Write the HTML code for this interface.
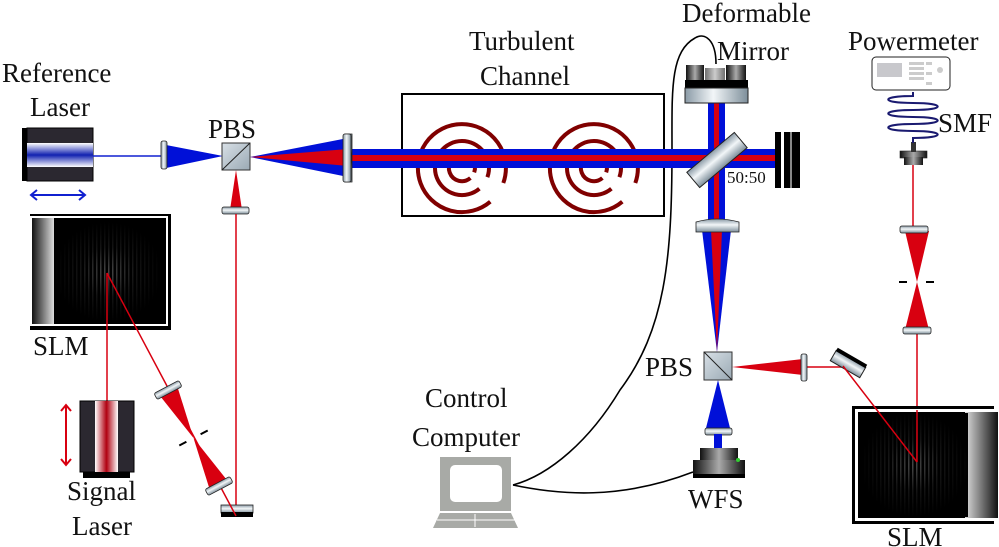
<!DOCTYPE html>
<html><head><meta charset="utf-8"><style>
html,body{margin:0;padding:0;background:#fff;}
svg{display:block;}
.t{font-family:"Liberation Serif","Times New Roman","DejaVu Serif",serif;}
</style></head><body>
<svg width="999" height="547" viewBox="0 0 999 547" xmlns="http://www.w3.org/2000/svg">
<defs>
<linearGradient id="lens" x1="0" y1="0" x2="0" y2="1"><stop offset="0" stop-color="#8a9aa6"/><stop offset="0.45" stop-color="#f2f6f8"/><stop offset="1" stop-color="#7d8e9a"/></linearGradient>
<linearGradient id="lensh" x1="0" y1="0" x2="1" y2="0"><stop offset="0" stop-color="#8a9aa6"/><stop offset="0.45" stop-color="#f2f6f8"/><stop offset="1" stop-color="#7d8e9a"/></linearGradient>
<linearGradient id="cube" x1="0" y1="0" x2="1" y2="1"><stop offset="0" stop-color="#d8e0e6"/><stop offset="1" stop-color="#9aa9b4"/></linearGradient>
<linearGradient id="blue" x1="0" y1="0" x2="0" y2="1"><stop offset="0" stop-color="#fff"/><stop offset="0.5" stop-color="#1020b0"/><stop offset="1" stop-color="#fff"/></linearGradient>
<linearGradient id="red" x1="0" y1="0" x2="1" y2="0"><stop offset="0" stop-color="#fff"/><stop offset="0.5" stop-color="#b00010"/><stop offset="1" stop-color="#fff"/></linearGradient>
<linearGradient id="slmL" x1="0" y1="0" x2="1" y2="0"><stop offset="0" stop-color="#111"/><stop offset="1" stop-color="#ddd"/></linearGradient>
<linearGradient id="slmR" x1="1" y1="0" x2="0" y2="0"><stop offset="0" stop-color="#111"/><stop offset="1" stop-color="#ddd"/></linearGradient>
<linearGradient id="metal" x1="0" y1="0" x2="1" y2="0"><stop offset="0" stop-color="#111"/><stop offset="0.5" stop-color="#aaa"/><stop offset="1" stop-color="#111"/></linearGradient>
<pattern id="stripes" width="4" height="10" patternUnits="userSpaceOnUse"><rect width="4" height="10" fill="#000"/><rect width="1.5" height="10" fill="#fff"/></pattern>
<radialGradient id="glow"><stop offset="0" stop-color="#000" stop-opacity="0.45"/><stop offset="0.5" stop-color="#000" stop-opacity="0.85"/><stop offset="1" stop-color="#000" stop-opacity="1"/></radialGradient>
</defs>

<!-- labels -->
<g class="t" font-size="27" fill="#111">
<text class="t" x="2" y="82">Reference</text>
<text class="t" x="30" y="116">Laser</text>
<text class="t" x="208" y="138">PBS</text>
<text class="t" x="469" y="50">Turbulent</text>
<text class="t" x="480" y="85">Channel</text>
<text class="t" x="682" y="22">Deformable</text>
<text class="t" x="717" y="60">Mirror</text>
<text class="t" x="848" y="50">Powermeter</text>
<text class="t" x="938" y="132">SMF</text>
<text class="t" x="33" y="355">SLM</text>
<text class="t" x="67" y="500">Signal</text>
<text class="t" x="72" y="535">Laser</text>
<text class="t" x="425" y="407">Control</text>
<text class="t" x="412" y="446">Computer</text>
<text class="t" x="645" y="376">PBS</text>
<text class="t" x="688" y="508">WFS</text>
<text class="t" x="887" y="546">SLM</text>
</g>
<text class="t" x="727" y="183" font-size="17" fill="#111">50:50</text>

<!-- cables -->
<path d="M716 64 C716 40 705 32 695 38 C670 52 672 90 672 150 C672 260 665 330 620 390 C590 440 550 475 513 485" fill="none" stroke="#000" stroke-width="1.6"/>
<path d="M513 485 C560 495 620 500 693 472" fill="none" stroke="#000" stroke-width="1.6"/>

<!-- Reference laser -->
<rect x="22" y="128" width="6" height="53" fill="#000"/>
<rect x="27" y="128" width="66" height="53" fill="#2b2830" stroke="#000"/>
<rect x="27" y="143" width="66" height="24" fill="url(#blue)"/>
<line x1="93" y1="156" x2="162" y2="156" stroke="#1020d0" stroke-width="1.5"/>
<line x1="32" y1="195" x2="84" y2="195" stroke="#1020d0" stroke-width="2"/>
<path d="M37 190 L31 195 L37 200 M79 190 L85 195 L79 200" fill="none" stroke="#1020d0" stroke-width="2"/>
<polygon points="166,145 223,156 166,168" fill="#0010d8"/>
<rect x="161" y="141" width="6" height="28" rx="2" fill="url(#lensh)" stroke="#222" stroke-width="0.8"/>

<!-- PBS 1 -->
<polygon points="236,170 230,210 242,210" fill="#d80010"/>
<polygon points="250,157 348,138 348,177" fill="#0010d8"/>
<polygon points="250,157 348,149 348,166" fill="#d80010"/>
<rect x="222" y="143" width="28" height="27" fill="url(#cube)" stroke="#333"/>
<line x1="222" y1="170" x2="250" y2="143" stroke="#222"/>
<rect x="222" y="207" width="27" height="7" rx="2" fill="url(#lens)" stroke="#222" stroke-width="0.8"/>
<line x1="236" y1="214" x2="236" y2="516" stroke="#d80010" stroke-width="1.5"/>
<rect x="221" y="505" width="32" height="8" fill="url(#lens)" stroke="#222" stroke-width="0.8"/>
<rect x="221" y="512" width="32" height="5" fill="#000"/>

<!-- turbulent channel -->
<rect x="402" y="94" width="262" height="122" fill="none" stroke="#000" stroke-width="2"/>
<g fill="none" stroke="#800000" stroke-width="4">
<path d="M470.4 178 A13 13 0 1 1 474.2 172.4"/>
<path d="M479.4 188.7 A27 27 0 1 1 487.4 177.2"/>
<path d="M490.3 201.7 A44 44 0 1 1 503.3 183"/>
<path d="M602.4 178 A13 13 0 1 1 606.2 172.4"/>
<path d="M611.4 188.7 A27 27 0 1 1 619.4 177.2"/>
<path d="M622.3 201.7 A44 44 0 1 1 635.3 183"/>
</g>

<!-- main horizontal beam -->
<rect x="352" y="149" width="425" height="19" fill="#0010d8"/>
<rect x="352" y="155" width="425" height="6" fill="#d80010"/>
<path d="M345 134 Q358 158 345 182 L352 182 L352 134 Z" fill="url(#lensh)" stroke="#222" stroke-width="0.8"/>
<rect x="343" y="134" width="8" height="48" rx="2" fill="url(#lensh)" stroke="#222" stroke-width="0.8"/>

<!-- vertical DM beam -->
<rect x="708" y="100" width="17" height="125" fill="#0010d8"/>
<rect x="714" y="100" width="5" height="125" fill="#d80010"/>
<polygon points="702,230 731,230 717,352" fill="#0010d8"/>
<polygon points="711,230 722,230 717,352" fill="#d80010"/>
<!-- DM -->
<rect x="686" y="65" width="18" height="16" fill="url(#metal)"/>
<rect x="705" y="68" width="20" height="13" fill="url(#metal)" opacity="0.6"/>
<rect x="726" y="65" width="20" height="16" fill="url(#metal)"/>
<rect x="685" y="80" width="63" height="9" fill="#000"/>
<rect x="685" y="88" width="63" height="15" fill="url(#lensh)" stroke="#222"/>
<!-- beamsplitter 50:50 -->
<rect x="686" y="150" width="62" height="20" fill="url(#lens)" stroke="#222" transform="rotate(-40 717 160)"/>
<!-- mirror stack -->
<rect x="775" y="132" width="25" height="56" fill="#000"/>
<rect x="781" y="132" width="3" height="56" fill="#fff"/>
<rect x="790" y="132" width="2" height="56" fill="#888"/>
<!-- lens below DM -->
<path d="M696 222 Q717 216 739 222 L739 232 L696 232 Z" fill="url(#lens)" stroke="#222" stroke-width="0.8"/>

<!-- PBS 2 -->
<polygon points="732,367 803,359 803,375" fill="#d80010"/>
<line x1="806" y1="367" x2="842" y2="367" stroke="#d80010" stroke-width="1.5"/>
<rect x="801" y="354" width="6" height="27" rx="2" fill="url(#lensh)" stroke="#222" stroke-width="0.8"/>
<g transform="rotate(30 848 364)"><rect x="831" y="358" width="34" height="12" fill="url(#lens)" stroke="#222"/><rect x="831" y="355" width="34" height="4" fill="#000"/></g>
<polygon points="718,380 706,428 730,428" fill="#0010d8"/>
<rect x="705" y="428" width="27" height="7" rx="2" fill="url(#lens)" stroke="#222" stroke-width="0.8"/>
<rect x="714" y="434" width="8" height="15" fill="#0010d8"/>
<rect x="704" y="352" width="28" height="28" fill="url(#cube)" stroke="#333"/>
<line x1="704" y1="352" x2="732" y2="380" stroke="#222"/>
<!-- WFS -->
<rect x="700" y="448" width="38" height="13" fill="url(#metal)"/>
<rect x="693" y="460" width="52" height="18" fill="url(#metal)"/>
<rect x="693" y="474" width="52" height="4" fill="#000"/>
<circle cx="738" cy="460" r="2" fill="#3c3"/>

<!-- right path -->
<line x1="917" y1="333" x2="917" y2="412" stroke="#d80010" stroke-width="1.5"/>
<polygon points="905,330 929,330 917,282" fill="#d80010"/>
<polygon points="905,231 929,231 917,282" fill="#d80010"/>
<line x1="913" y1="164" x2="913" y2="228" stroke="#d80010" stroke-width="1.5"/>
<rect x="903" y="327" width="28" height="7" rx="2" fill="url(#lens)" stroke="#222" stroke-width="0.8"/>
<rect x="900" y="226" width="28" height="7" rx="2" fill="url(#lens)" stroke="#222" stroke-width="0.8"/>
<line x1="899" y1="282" x2="907" y2="282" stroke="#000" stroke-width="2"/>
<line x1="926" y1="282" x2="934" y2="282" stroke="#000" stroke-width="2"/>
<!-- connector -->
<rect x="900" y="151" width="27" height="7" fill="url(#metal)" stroke="#222" stroke-width="0.6"/>
<rect x="904" y="157" width="19" height="8" fill="url(#metal)"/>
<rect x="911" y="142" width="5" height="10" fill="#333"/>
<!-- coil -->
<g fill="none" stroke="#1a1a70" stroke-width="2">
<path d="M913 92 L913 96 C880 96 880 103 913 103 C946 103 946 110 913 110 C880 110 880 117 913 117 C946 117 946 124 913 124 C880 124 880 131 913 131 C946 131 946 138 913 138 L913 143"/>
</g>
<!-- powermeter -->
<rect x="872" y="57" width="78" height="33" rx="4" fill="#fff" stroke="#222"/>
<rect x="877" y="63" width="25" height="14" fill="#c8c8cc"/>
<g fill="#ccc"><rect x="909" y="62" width="15" height="3"/><rect x="909" y="67" width="15" height="3"/><rect x="909" y="72" width="15" height="3"/><rect x="909" y="77" width="15" height="3"/><rect x="926" y="62" width="6" height="3"/><rect x="926" y="72" width="6" height="3"/><rect x="926" y="82" width="6" height="3"/><circle cx="940" cy="70" r="3"/></g>

<!-- SLM right -->
<rect x="852" y="406" width="142" height="118" fill="#000"/>
<rect x="855" y="409" width="140" height="112" fill="#fff"/>
<rect x="858" y="412" width="140" height="106" fill="#000"/>
<rect x="965" y="412" width="33" height="106" fill="url(#slmR)"/>
<rect x="860" y="413" width="108" height="104" fill="url(#stripes)" opacity="0.5"/>
<rect x="860" y="413" width="108" height="104" fill="url(#glow)"/>
<line x1="843" y1="366" x2="917" y2="462" stroke="#d80010" stroke-width="1.5"/>
<line x1="917" y1="410" x2="917" y2="462" stroke="#d80010" stroke-width="1.5"/>

<!-- SLM left -->
<rect x="30" y="214" width="141" height="116" fill="#000"/>
<rect x="30" y="216" width="138" height="110" fill="#fff"/>
<rect x="32" y="218" width="134" height="106" fill="#000"/>
<rect x="32" y="218" width="22" height="106" fill="url(#slmL)"/>
<rect x="54" y="222" width="108" height="100" fill="url(#stripes)" opacity="0.5"/>
<rect x="54" y="222" width="108" height="100" fill="url(#glow)"/>
<line x1="107" y1="273" x2="107" y2="401" stroke="#d80010" stroke-width="1.5"/>
<line x1="107" y1="273" x2="236" y2="516" stroke="#d80010" stroke-width="1.5"/>

<!-- lower-left telescope -->
<polygon points="176.9,385.3 159.1,394.7 193.5,438" fill="#d80010"/>
<polygon points="193.5,438 227.9,481.3 210.1,490.7" fill="#d80010"/>
<rect x="154" y="386.5" width="28" height="7" rx="2" fill="url(#lens)" stroke="#222" stroke-width="0.8" transform="rotate(-27.8 168 390)"/>
<rect x="205" y="482.5" width="28" height="7" rx="2" fill="url(#lens)" stroke="#222" stroke-width="0.8" transform="rotate(-27.8 219 486)"/>
<line x1="200.6" y1="434.3" x2="207.7" y2="430.5" stroke="#000" stroke-width="2"/>
<line x1="186.4" y1="441.7" x2="179.3" y2="445.5" stroke="#000" stroke-width="2"/>

<!-- signal laser -->
<rect x="80" y="401" width="54" height="71" fill="#2b2830" stroke="#000"/>
<rect x="95" y="401" width="23" height="71" fill="url(#red)"/>
<rect x="83" y="472" width="47" height="6" fill="#000"/>
<line x1="66" y1="406" x2="66" y2="464" stroke="#d80010" stroke-width="2"/>
<path d="M61 411 L66 405 L71 411 M61 459 L66 465 L71 459" fill="none" stroke="#d80010" stroke-width="2"/>

<!-- computer -->
<rect x="440" y="457" width="71" height="54" fill="#a8aaa6"/>
<rect x="450" y="465" width="52" height="37" rx="5" fill="#fff"/>
<polygon points="440,513 511,513 518,528 433,528" fill="#a8aaa6"/>
<line x1="437" y1="520" x2="515" y2="520" stroke="#fff" stroke-width="1"/>
<line x1="475" y1="514" x2="475" y2="527" stroke="#fff" stroke-width="1"/>
</svg>
</body></html>
